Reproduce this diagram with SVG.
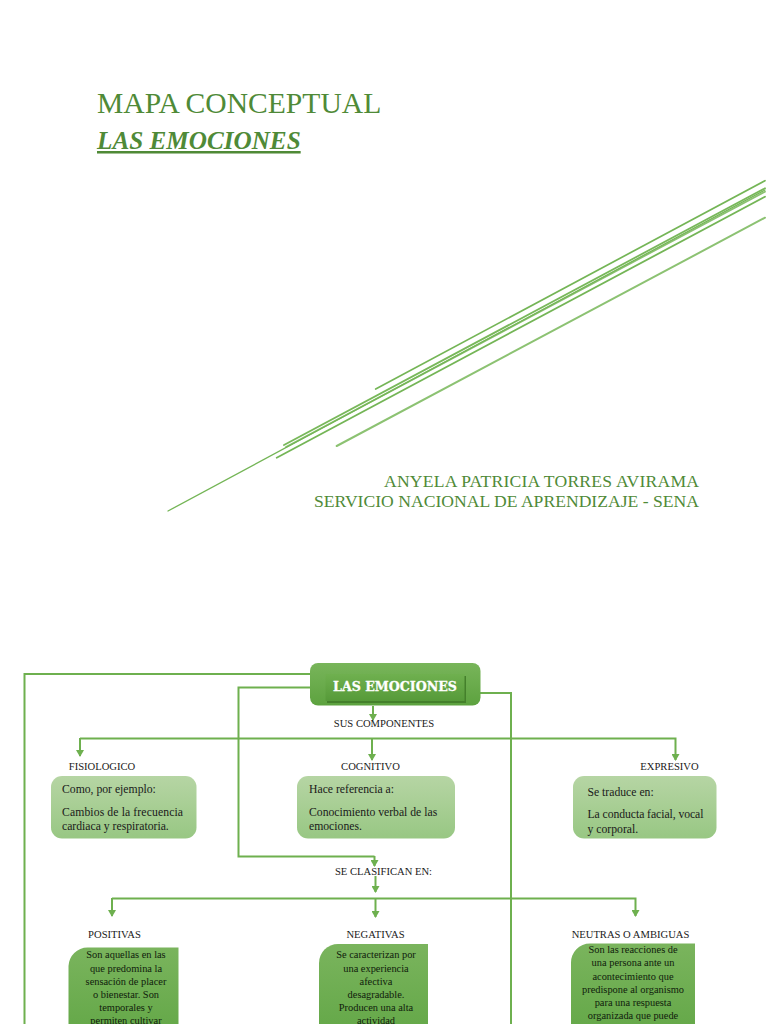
<svg xmlns="http://www.w3.org/2000/svg" width="768" height="1024" viewBox="0 0 768 1024">
<style>
text{font-family:"Liberation Serif","Times New Roman",serif;fill:#1a1a1a}
.title{fill:#4f8a37}
.cap{font-size:10.6px;text-anchor:middle}
.b{font-size:11.7px}
.c{font-size:10.4px;text-anchor:middle;fill:#10200c}
.sl{fill:none;stroke-linecap:round}
.conn{fill:none;stroke:#6eb04f;stroke-width:2}
.soft{fill:url(#soft);stroke:none}
.mid{fill:url(#mid);stroke:none}
.rootlabel{font-family:"DejaVu Serif",serif;font-size:12.5px;font-weight:bold;fill:#fff;stroke:#fff;stroke-width:.3px}
</style>
<defs>
<linearGradient id="soft" x1="0" y1="0" x2="0" y2="1"><stop offset="0" stop-color="#b6d5a4"/><stop offset="1" stop-color="#98c783"/></linearGradient>
<linearGradient id="mid" x1="0" y1="0" x2="0" y2="1"><stop offset="0" stop-color="#7ab45d"/><stop offset="1" stop-color="#66a94a"/></linearGradient>
<linearGradient id="top" x1="0" y1="0" x2="0" y2="1"><stop offset="0" stop-color="#78b55a"/><stop offset="1" stop-color="#5da23f"/></linearGradient>
<linearGradient id="inner" x1="0" y1="0" x2="0" y2="1"><stop offset="0" stop-color="#6fb04f"/><stop offset="1" stop-color="#569a39"/></linearGradient>
<marker id="arr" markerWidth="8" markerHeight="8" refX="6" refY="4" orient="auto" markerUnits="userSpaceOnUse"><path d="M0 0L7 4L0 8Z" fill="#6eb04f"/></marker>
</defs>
<rect width="768" height="1024" fill="#fff"/>
<g id="cover-title">
<text class="title" x="97" y="113" font-size="29.6">MAPA CONCEPTUAL</text>
<text class="title" x="97" y="149" font-size="25.2" font-weight="bold" font-style="italic" text-decoration="underline">LAS EMOCIONES</text>
</g>
<g id="cover-lines" class="sl">
<line x1="375.7" y1="389" x2="765" y2="180.7" stroke="#74b556" stroke-width="1.7"/>
<line x1="284" y1="445" x2="765" y2="188.3" stroke="#78b85a" stroke-width="1.8"/>
<line x1="286" y1="447" x2="765" y2="191.7" stroke="#8cc272" stroke-width="1.8"/>
<line x1="168" y1="511" x2="765" y2="190" stroke="#74b556" stroke-width="1.3"/>
<line x1="276.7" y1="457.7" x2="765" y2="196.7" stroke="#74b556" stroke-width="1.8"/>
<line x1="336.7" y1="446" x2="765" y2="217.7" stroke="#8cc272" stroke-width="2"/>
</g>
<g id="cover-author">
<text class="title" x="384" y="487" font-size="17.6" textLength="315">ANYELA PATRICIA TORRES AVIRAMA</text>
<text class="title" x="314" y="507" font-size="17.6" textLength="385">SERVICIO NACIONAL DE APRENDIZAJE - SENA</text>
</g>
<g id="connectors">
<path class="conn" d="M310 674H24.500V1024"/>
<path class="conn" d="M310 687.500H238.500V856.500H374.500"/>
<path class="conn" d="M480 693H511V1024"/>
<path class="conn" d="M373 706V720" marker-end="url(#arr)"/>
<path class="conn" d="M80 738.500H675.500V760" marker-end="url(#arr)"/>
<path class="conn" d="M80 738V756" marker-end="url(#arr)"/>
<path class="conn" d="M372 739V760" marker-end="url(#arr)"/>
<path class="conn" d="M374.500 856V866" marker-end="url(#arr)"/>
<path class="conn" d="M375.500 876V892" marker-end="url(#arr)"/>
<path class="conn" d="M112 898.500H635.500V916" marker-end="url(#arr)"/>
<path class="conn" d="M112 898V916" marker-end="url(#arr)"/>
<path class="conn" d="M375.500 899V917" marker-end="url(#arr)"/>
</g>
<g id="node-root">
<rect x="310" y="663" width="170.500" height="42.500" rx="8" fill="url(#top)"/>
<rect x="327" y="676" width="139" height="27" fill="#44802b"/>
<rect x="325.500" y="674" width="139" height="27" fill="url(#inner)"/>
<text class="rootlabel" x="333" y="691" textLength="124" lengthAdjust="spacingAndGlyphs">LAS EMOCIONES</text>
</g>
<g id="label-componentes"><text class="cap" x="384" y="727">SUS COMPONENTES</text></g>
<g id="node-fisiologico">
<text class="cap" x="102" y="770">FISIOLOGICO</text>
<rect class="soft" x="51" y="776" width="145.500" height="62.500" rx="11"/>
<text class="b" x="62" y="793">Como, por ejemplo:</text>
<text class="b" x="62" y="815.500" textLength="121">Cambios de la frecuencia</text>
<text class="b" x="62" y="830">cardiaca y respiratoria.</text>
</g>
<g id="node-cognitivo">
<text class="cap" x="370.500" y="770">COGNITIVO</text>
<rect class="soft" x="297" y="776" width="158" height="62.500" rx="11"/>
<text class="b" x="309" y="793">Hace referencia a:</text>
<text class="b" x="309" y="815.500">Conocimiento verbal de las</text>
<text class="b" x="309" y="830">emociones.</text>
</g>
<g id="node-expresivo">
<text class="cap" x="669.500" y="770">EXPRESIVO</text>
<rect class="soft" x="573" y="776" width="143.500" height="62.500" rx="11"/>
<text class="b" x="587.500" y="796">Se traduce en:</text>
<text class="b" x="587.500" y="818" textLength="116">La conducta facial, vocal</text>
<text class="b" x="587.500" y="833">y corporal.</text>
</g>
<g id="label-clasifican"><text class="cap" x="383.500" y="875">SE CLASIFICAN EN:</text></g>
<g id="node-positivas">
<text class="cap" x="114.500" y="938">POSITIVAS</text>
<path class="mid" d="M68.500 1024V966A19 19 0 0 1 87.500 947.500H178.500V1024Z"/>
<text class="c"><tspan x="126" y="958">Son aquellas en las</tspan><tspan x="126" y="971.500">que predomina la</tspan><tspan x="126" y="985">sensación de placer</tspan><tspan x="126" y="998">o bienestar. Son</tspan><tspan x="126" y="1011">temporales y</tspan><tspan x="126" y="1024">permiten cultivar</tspan></text>
</g>
<g id="node-negativas">
<text class="cap" x="375.500" y="938">NEGATIVAS</text>
<path class="mid" d="M319 1024V963A19 19 0 0 1 338 944H428V1024Z"/>
<text class="c"><tspan x="376" y="958">Se caracterizan por</tspan><tspan x="376" y="971.500">una experiencia</tspan><tspan x="376" y="985">afectiva</tspan><tspan x="376" y="998">desagradable.</tspan><tspan x="376" y="1011">Producen una alta</tspan><tspan x="376" y="1024">actividad</tspan></text>
</g>
<g id="node-neutras">
<text class="cap" x="630.500" y="938">NEUTRAS O AMBIGUAS</text>
<path class="mid" d="M571 1024V963A19 19 0 0 1 590 943.500H695V1024Z"/>
<text class="c"><tspan x="633" y="953">Son las reacciones de</tspan><tspan x="633" y="966">una persona ante un</tspan><tspan x="633" y="979.500">acontecimiento que</tspan><tspan x="633" y="992.500">predispone al organismo</tspan><tspan x="633" y="1006">para una respuesta</tspan><tspan x="633" y="1019">organizada que puede</tspan></text>
</g>
</svg>
